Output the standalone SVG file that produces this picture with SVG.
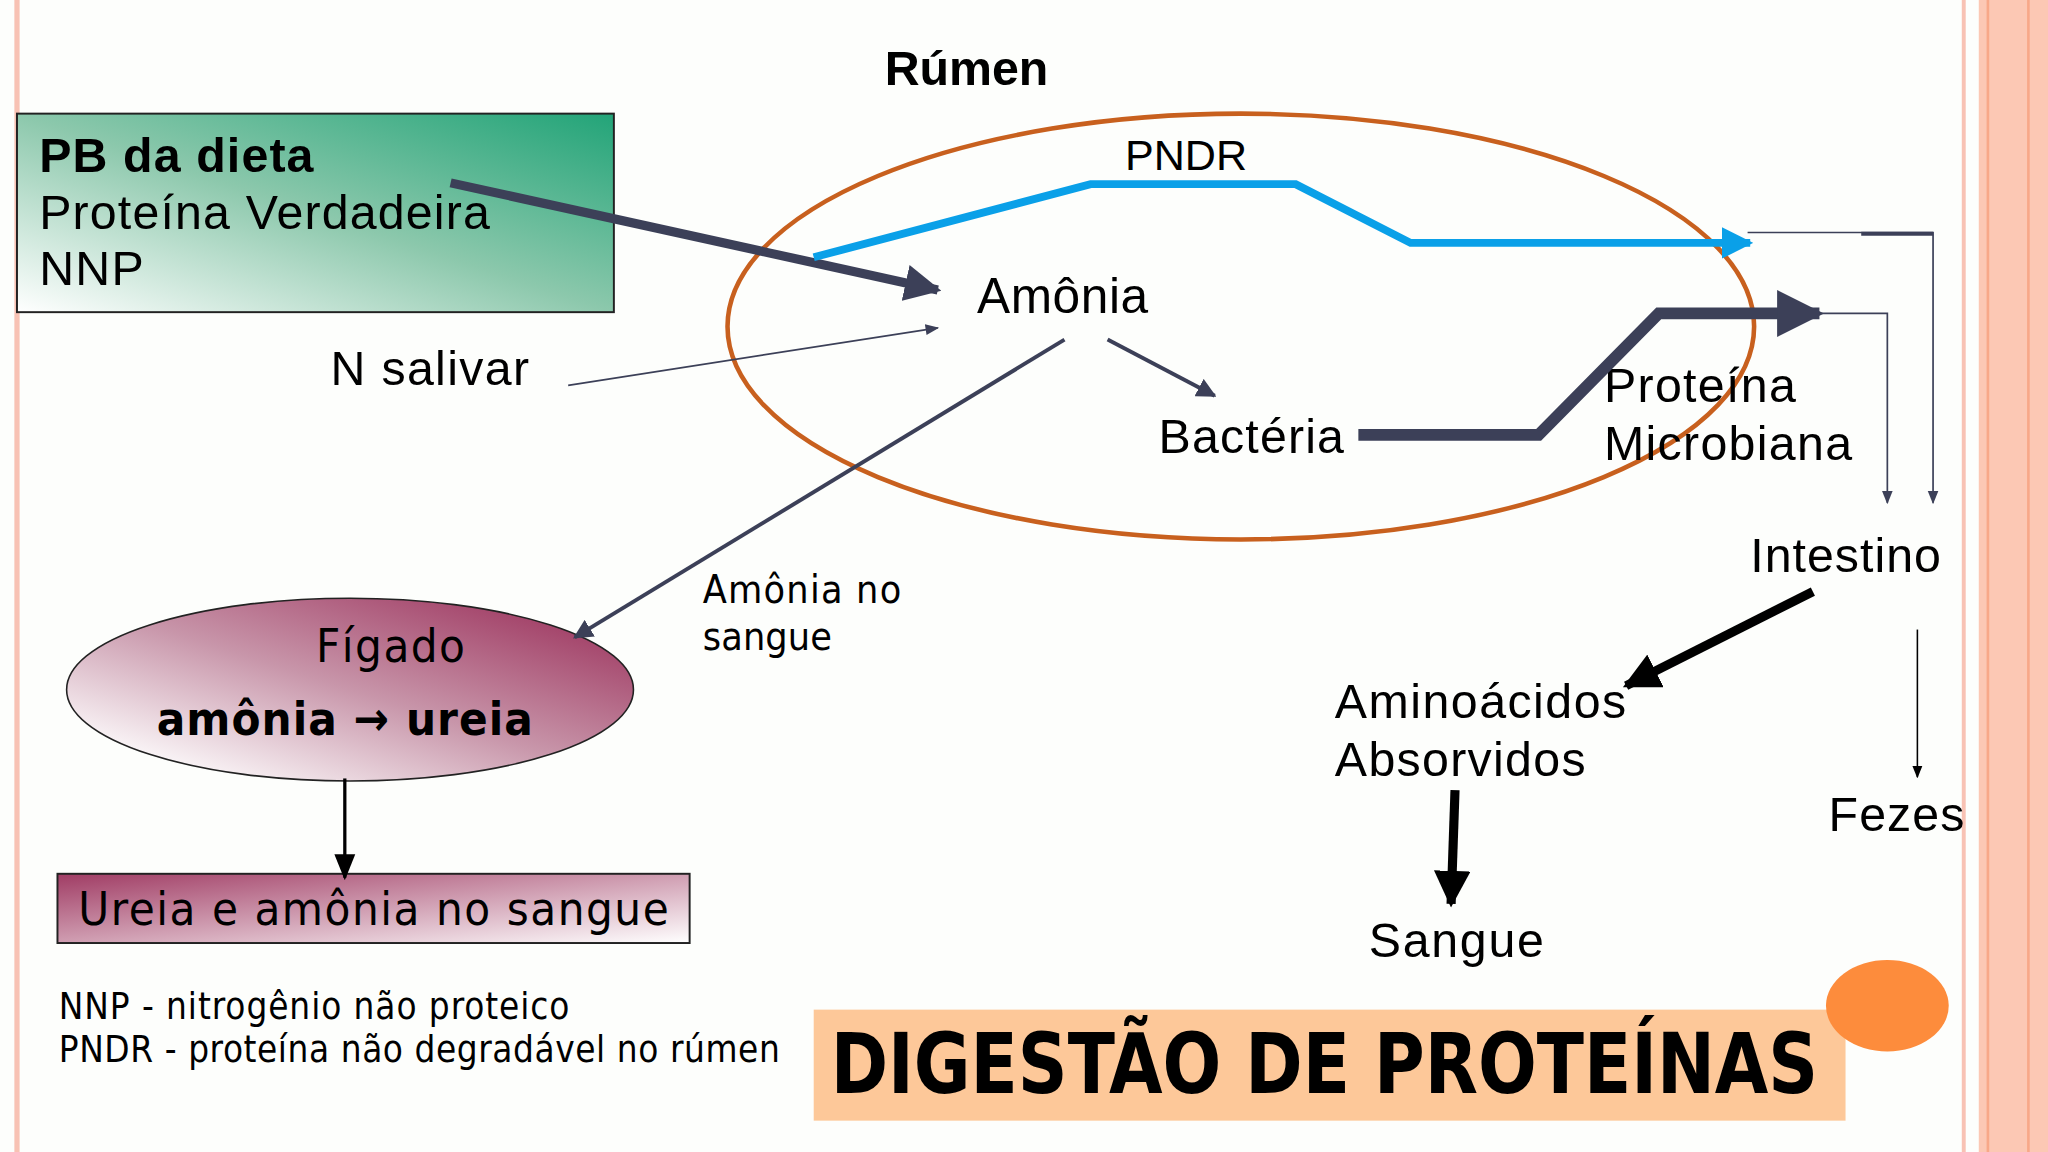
<svg xmlns="http://www.w3.org/2000/svg" width="2048" height="1152" viewBox="0 0 2048 1152">
<defs>
<linearGradient id="gGreen" x1="0" y1="1" x2="1" y2="0"><stop offset="0" stop-color="#ffffff"/><stop offset="0.5" stop-color="#8cc8ac"/><stop offset="1" stop-color="#22a478"/></linearGradient>
<linearGradient id="gLiver" x1="0.1" y1="0.9" x2="0.9" y2="0.1"><stop offset="0" stop-color="#ffffff"/><stop offset="0.5" stop-color="#c896aa"/><stop offset="1" stop-color="#a03c64"/></linearGradient>
<linearGradient id="gUreia" x1="0" y1="0" x2="1" y2="1"><stop offset="0" stop-color="#a03c64"/><stop offset="1" stop-color="#ffffff"/></linearGradient>
<marker id="aDark" viewBox="0 0 10 10" refX="9" refY="5" markerWidth="4" markerHeight="4" orient="auto" markerUnits="strokeWidth"><path d="M0,0L10,5L0,10z" fill="#3c4058"/></marker>
<marker id="aThin" viewBox="0 0 10 10" refX="9" refY="5" markerWidth="8" markerHeight="8" orient="auto" markerUnits="strokeWidth"><path d="M0,1L10,5L0,9z" fill="#3c4058"/></marker>
<marker id="aMed" viewBox="0 0 10 10" refX="9" refY="5" markerWidth="5" markerHeight="5" orient="auto" markerUnits="strokeWidth"><path d="M0,0L10,5L0,10z" fill="#3c4058"/></marker>
<marker id="aBlue" viewBox="0 0 10 10" refX="9" refY="5" markerWidth="4" markerHeight="4" orient="auto" markerUnits="strokeWidth"><path d="M0,0L10,5L0,10z" fill="#0aa0e8"/></marker>
<marker id="aBlack" viewBox="0 0 10 10" refX="9" refY="5" markerWidth="4" markerHeight="4" orient="auto" markerUnits="strokeWidth"><path d="M0,0L10,5L0,10z" fill="#000"/></marker>
<marker id="aBlackThin" viewBox="0 0 10 10" refX="9" refY="5" markerWidth="8" markerHeight="8" orient="auto" markerUnits="strokeWidth"><path d="M0,1L10,5L0,9z" fill="#000"/></marker>
</defs>
<style>
.a{font-family:"Liberation Sans",Arial,sans-serif;fill:#000}
.d{font-family:"DejaVu Sans Condensed","DejaVu Sans",sans-serif;fill:#000}
</style>
<rect width="2048" height="1152" fill="#fdfefc"/>
<g transform="scale(1.30612)">
<g id="frame">
<rect x="11" y="0" width="4" height="882" fill="#f8c2b4"/>
<rect x="1502" y="0" width="3" height="882" fill="#f8c2b4"/>
<rect x="1515" y="0" width="53" height="882" fill="#fcc8b4"/>
<rect x="1521" y="0" width="2" height="882" fill="#f8a888"/>
<rect x="1552" y="0" width="2" height="882" fill="#f8a888"/>
</g>
<g id="rumen">
<ellipse cx="950" cy="250" rx="393" ry="163" fill="none" stroke="#c8601e" stroke-width="3.5"/>
<text class="a" x="740" y="65" font-size="37" font-weight="bold" text-anchor="middle">Rúmen</text>
</g>
<g id="pb">
<rect x="13" y="87" width="457" height="152" fill="url(#gGreen)" stroke="#222" stroke-width="1.5"/>
<text class="a" x="30" y="132" font-size="37" font-weight="bold" textLength="210">PB da dieta</text>
<text class="a" x="30" y="175" font-size="37" textLength="345">Proteína Verdadeira</text>
<text class="a" x="30" y="218" font-size="37" textLength="80">NNP</text>
</g>
<g id="labels">
<text class="a" x="908" y="130" font-size="33" text-anchor="middle">PNDR</text>
<text class="a" x="748" y="240" font-size="38" textLength="131">Amônia</text>
<text class="a" x="253" y="295" font-size="37" textLength="152">N salivar</text>
<text class="a" x="887" y="347" font-size="37" textLength="142">Bactéria</text>
<text class="a" x="1228" y="308" font-size="37" textLength="147">Proteína</text>
<text class="a" x="1228" y="352" font-size="37" textLength="190">Microbiana</text>
<text class="a" x="1340" y="438" font-size="37" textLength="146">Intestino</text>
<text class="a" x="1400" y="636" font-size="37" textLength="104">Fezes</text>
<text class="a" x="1022" y="550" font-size="37" textLength="223">Aminoácidos</text>
<text class="a" x="1022" y="594" font-size="37" textLength="192">Absorvidos</text>
<text class="a" x="1048" y="733" font-size="37" textLength="134">Sangue</text>
<text class="d" x="538" y="462" font-size="30" textLength="152">Amônia no</text>
<text class="d" x="538" y="498" font-size="30" textLength="99">sangue</text>
</g>
<g id="figado">
<ellipse cx="268" cy="528" rx="217" ry="70" fill="url(#gLiver)" stroke="#222" stroke-width="1.2"/>
<text class="d" x="242" y="507" font-size="36" textLength="114">Fígado</text>
<text class="d" x="120" y="563" font-size="36" font-weight="bold" textLength="288">amônia → ureia</text>
</g>
<g id="ureia">
<rect x="44" y="669" width="484" height="53" fill="url(#gUreia)" stroke="#222" stroke-width="1.5"/>
<text class="d" x="60" y="708" font-size="36" textLength="452">Ureia e amônia no sangue</text>
</g>
<g id="legend">
<text class="d" x="45" y="780" font-size="28" textLength="391">NNP - nitrogênio não proteico</text>
<text class="d" x="45" y="813" font-size="28" textLength="552">PNDR - proteína não degradável no rúmen</text>
</g>
<g id="title">
<rect x="623" y="773" width="790" height="85" fill="#fdc899"/>
<ellipse cx="1445" cy="770" rx="47" ry="35" fill="#fd8c3c"/>
<text class="d" x="636" y="837" font-size="64" font-weight="bold" textLength="756" lengthAdjust="spacingAndGlyphs">DIGESTÃO DE PROTEÍNAS</text>
</g>
<g id="connectors" fill="none">
<line x1="345" y1="140" x2="718" y2="222" stroke="#3c4058" stroke-width="7" marker-end="url(#aDark)"/>
<polyline points="623,197 835,141 992,141 1080,186 1340,186" stroke="#0aa0e8" stroke-width="6" marker-end="url(#aBlue)"/>
<line x1="435" y1="295" x2="718" y2="251" stroke="#3c4058" stroke-width="1.3" marker-end="url(#aThin)"/>
<line x1="815" y1="260" x2="440" y2="488" stroke="#3c4058" stroke-width="3" marker-end="url(#aMed)"/>
<line x1="848" y1="260" x2="930" y2="303" stroke="#3c4058" stroke-width="3" marker-end="url(#aMed)"/>
<polyline points="1040,333 1178,333 1270,240 1393,240" stroke="#3c4058" stroke-width="9" marker-end="url(#aDark)"/>
<polyline points="1338,178 1480,178 1480,385" stroke="#3c4058" stroke-width="1.3" marker-end="url(#aThin)"/>
<line x1="1425" y1="179" x2="1480" y2="179" stroke="#3c4058" stroke-width="3"/>
<polyline points="1393,240 1445,240 1445,385" stroke="#3c4058" stroke-width="1.3" marker-end="url(#aThin)"/>
<line x1="1388" y1="453" x2="1245" y2="525" stroke="#000" stroke-width="7" marker-end="url(#aBlack)"/>
<line x1="1468" y1="482" x2="1468" y2="595" stroke="#000" stroke-width="1.2" marker-end="url(#aBlackThin)"/>
<line x1="1114" y1="605" x2="1111" y2="692" stroke="#000" stroke-width="7" marker-end="url(#aBlack)"/>
<line x1="264" y1="596" x2="264" y2="672" stroke="#000" stroke-width="2.5" marker-end="url(#aBlackThin)"/>
</g>
</g>
</svg>
